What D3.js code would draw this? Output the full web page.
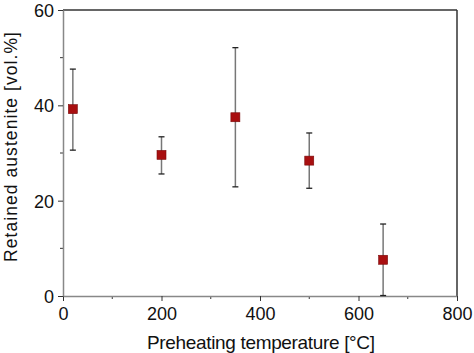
<!DOCTYPE html>
<html>
<head>
<meta charset="utf-8">
<script src="https://cdn.jsdelivr.net/npm/d3@7"></script>
<style>
  body { margin: 0; background: #fff; }
  text { font-family: "Liberation Sans", Arial, sans-serif; fill: #111; }
</style>
</head>
<body>
<div id="chart"></div>
<script>
// preheating temperature vs retained austenite
var temps = [20, 200, 350, 500, 650];
var austenite = [39.2, 29.6, 37.5, 28.4, 7.6];
var errLow = [30.6, 25.6, 22.9, 22.6, 0.1];
var errHigh = [47.6, 33.4, 52.1, 34.2, 15.1];
var xTicks = [0, 200, 400, 600, 800];
var yTicks = [0, 20, 40, 60];

var svgWidth = 474, svgHeight = 353;
var margin = { top: 10, right: 17, bottom: 57, left: 63 };
var width = svgWidth - margin.left - margin.right;
var height = svgHeight - margin.top - margin.bottom;

var svg = d3.select("#chart").append("svg")
    .attr("width", svgWidth)
    .attr("height", svgHeight);

var g = svg.append("g")
    .attr("transform", `translate(${margin.left}, ${margin.top})`);

var x = d3.scaleLinear().domain([0, 800]).range([0, width]);
var y = d3.scaleLinear().domain([0, 60]).range([height, 0]);

// frame top / right
g.append("line").attr("x1", 0).attr("x2", width).attr("y1", 0).attr("y2", 0)
    .attr("stroke", "#333").attr("stroke-width", 1.5);
g.append("line").attr("x1", width).attr("x2", width).attr("y1", 0).attr("y2", height)
    .attr("stroke", "#333").attr("stroke-width", 1.5);

// minor ticks
g.selectAll(".xminor").data([100, 300, 500, 700]).join("line")
    .attr("x1", d => x(d)).attr("x2", d => x(d))
    .attr("y1", height).attr("y2", height + 3)
    .attr("stroke", "#333");
g.selectAll(".yminor").data([10, 30, 50]).join("line")
    .attr("x1", 0).attr("x2", -3)
    .attr("y1", d => y(d)).attr("y2", d => y(d))
    .attr("stroke", "#333");

var xAxis = g.append("g")
    .attr("transform", `translate(0, ${height})`)
    .call(d3.axisBottom(x).tickValues(xTicks).tickSize(5).tickSizeOuter(0).tickPadding(6));
var yAxis = g.append("g")
    .call(d3.axisLeft(y).tickValues(yTicks).tickSize(5).tickSizeOuter(0).tickPadding(4));

[xAxis, yAxis].forEach(a => {
    a.select(".domain").attr("stroke", "#888").attr("stroke-width", 1.5);
    a.selectAll(".tick line").attr("stroke", "#333");
    a.selectAll(".tick text").attr("font-size", 18).attr("fill", "#111");
});
yAxis.selectAll(".tick text").attr("dy", "0.36em");

// error bars
var pts = temps.map((t, i) => ({ t: t, v: austenite[i], lo: errLow[i], hi: errHigh[i] }));
g.selectAll(".err").data(pts).join("line")
    .attr("x1", d => x(d.t)).attr("x2", d => x(d.t))
    .attr("y1", d => y(d.lo)).attr("y2", d => y(d.hi))
    .attr("stroke", "#777").attr("stroke-width", 1.5);
g.selectAll(".capTop").data(pts).join("line")
    .attr("x1", d => x(d.t) - 3).attr("x2", d => x(d.t) + 3)
    .attr("y1", d => y(d.hi)).attr("y2", d => y(d.hi))
    .attr("stroke", "#222").attr("stroke-width", 1.3);
g.selectAll(".capBot").data(pts).join("line")
    .attr("x1", d => x(d.t) - 3).attr("x2", d => x(d.t) + 3)
    .attr("y1", d => y(d.lo)).attr("y2", d => y(d.lo))
    .attr("stroke", "#222").attr("stroke-width", 1.3);

// markers
g.selectAll("rect.pt").data(pts).join("rect")
    .attr("class", "pt")
    .attr("x", d => x(d.t) - 4.5).attr("y", d => y(d.v) - 4.5)
    .attr("width", 9).attr("height", 9)
    .attr("fill", "#a80f10").attr("stroke", "#7a0a0a").attr("stroke-width", 0.6);

// axis titles
svg.append("text")
    .attr("x", 261).attr("y", 349)
    .attr("text-anchor", "middle").attr("font-size", 19)
    .attr("textLength", 228).attr("lengthAdjust", "spacing")
    .text("Preheating temperature [°C]");
svg.append("text")
    .attr("transform", "translate(17, 147) rotate(-90)")
    .attr("text-anchor", "middle").attr("font-size", 17.5)
    .attr("textLength", 230).attr("lengthAdjust", "spacing")
    .text("Retained austenite [vol.%]");
</script>
</body>
</html>
